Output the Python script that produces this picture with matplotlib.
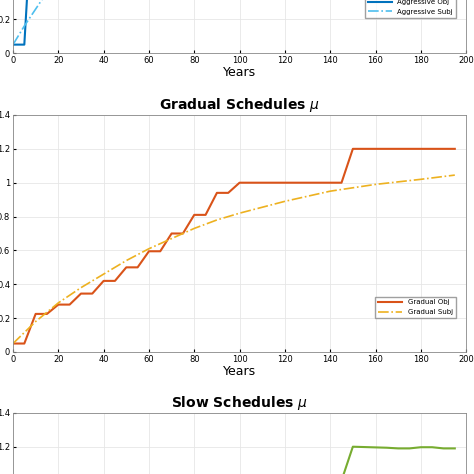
import numpy as np
import matplotlib
matplotlib.use("Agg")
import matplotlib.pyplot as plt

years = np.arange(0, 200, 5)
agg_obj = [0.05, 0.05] + [1.2]*38
agg_subj_t = [0, 5, 10, 15, 20, 40, 80, 120, 160, 195]
agg_subj = [0.05, 0.16, 0.26, 0.36, 0.45, 0.75, 1.05, 1.15, 1.19, 1.2]
grad_obj = [0.05, 0.05, 0.225, 0.225, 0.28, 0.28, 0.345, 0.345, 0.42, 0.42,
            0.5, 0.5, 0.595, 0.595, 0.70, 0.70, 0.81, 0.81, 0.94, 0.94,
            1.0, 1.0, 1.0, 1.0, 1.0, 1.0, 1.0, 1.0, 1.0, 1.0,
            1.2, 1.2, 1.2, 1.2, 1.2, 1.2, 1.2, 1.2, 1.2, 1.2]
grad_subj_t = [0, 10, 20, 30, 40, 50, 60, 70, 80, 90, 100, 120, 140, 160, 180, 195]
grad_subj = [0.05, 0.18, 0.29, 0.38, 0.46, 0.54, 0.61, 0.67, 0.73, 0.78, 0.82, 0.89, 0.95, 0.99, 1.02, 1.045]
slow_t = [0, 50, 100, 140, 145, 150, 155, 160, 165, 170, 175, 180, 185, 190, 195]
slow_obj = [0.05, 0.3, 0.6, 0.9, 1.0, 1.2, 1.198, 1.196, 1.194, 1.19, 1.19, 1.197, 1.197, 1.19, 1.19]

fig = plt.figure(figsize=(4.74, 4.74), dpi=100)
L, W, H = 0.0274, 0.956, 0.5
axes = [fig.add_axes([L, 0.888, W, H]), fig.add_axes([L, 0.2574, W, H]), fig.add_axes([L, -0.371, W, H])]
for ax in axes:
    ax.set_xlim(0, 200)
    ax.set_ylim(0, 1.4)
    ax.set_xticks(range(0, 201, 20))
    ax.set_yticks([0, 0.2, 0.4, 0.6, 0.8, 1, 1.2, 1.4])
    ax.set_yticklabels(['0', '0.2', '0.4', '0.6', '0.8', '1', '1.2', '1.4'])
    ax.grid(True, color='#e6e6e6', linewidth=0.6)
    ax.tick_params(labelsize=6, length=2, direction='in', pad=2)
    for s in ax.spines.values():
        s.set_color('#888888'); s.set_linewidth(0.6)
    ax.set_xlabel('Years', fontsize=9, labelpad=1)

a0, a1, a2 = axes
a0.plot(years, agg_obj, color='#0072BD', lw=1.5, label='Aggressive Obj')
a0.plot(agg_subj_t, agg_subj, color='#4DBEEE', lw=1.2, ls='-.', label='Aggressive Subj')
a0.legend(loc='lower right', bbox_to_anchor=(0.985, 0.135), fontsize=5, fancybox=False, edgecolor='#888888', handlelength=3.5)

a1.plot(years, grad_obj, color='#D95319', lw=1.5, label='Gradual Obj')
a1.plot(grad_subj_t, grad_subj, color='#EDB120', lw=1.2, ls='-.', label='Gradual Subj')
a1.set_title('Gradual Schedules $\\mu$', fontsize=10, fontweight='bold', pad=4)
a1.legend(loc='lower right', bbox_to_anchor=(0.985, 0.13), fontsize=5, fancybox=False, edgecolor='#888888', handlelength=3.5)

a2.plot(slow_t, slow_obj, color='#77AC30', lw=1.5, label='Slow Obj')
a2.set_title('Slow Schedules $\\mu$', fontsize=10, fontweight='bold', pad=4)

fig.savefig('out.png', dpi=100)
